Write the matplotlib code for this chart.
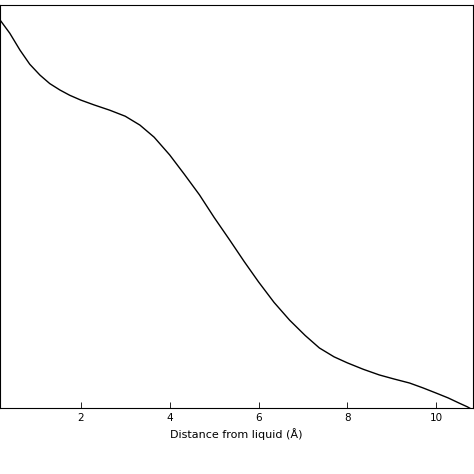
import matplotlib
matplotlib.use("Agg")
import matplotlib.pyplot as plt

x = [0.18, 0.4, 0.63, 0.85, 1.08, 1.3, 1.53, 1.75, 2.0, 2.3, 2.65, 3.0, 3.33, 3.65, 4.0, 4.33, 4.67, 5.0, 5.35, 5.68, 6.0, 6.35, 6.7, 7.05, 7.37, 7.7, 8.0, 8.36, 8.72, 9.05, 9.4, 9.7, 10.0, 10.27, 10.52, 10.7, 10.83]
y = [0.963, 0.93, 0.888, 0.853, 0.826, 0.805, 0.789, 0.776, 0.764, 0.752, 0.739, 0.724, 0.702, 0.672, 0.628, 0.58, 0.529, 0.473, 0.417, 0.363, 0.313, 0.262, 0.218, 0.18, 0.149, 0.127, 0.112, 0.096, 0.082, 0.072, 0.062, 0.05, 0.037, 0.025, 0.012, 0.003, -0.005]
xticks = [2, 4, 6, 8, 10]

fig = plt.figure(figsize=(4.74, 4.74), dpi=100)
ax = fig.add_axes([0.0, 66/474, 0.998, 403/474])
ax.plot(x, y, color="black", lw=1.0, solid_joinstyle="round")
ax.set_xlim(0.18, 10.83)
ax.set_ylim(0, 1)
ax.set_xticks(xticks)
ax.set_xticklabels([str(t) for t in xticks], fontsize=7.5)
ax.set_yticks([])
ax.tick_params(direction="in", length=4, width=0.6)
for s in ax.spines.values():
    s.set_linewidth(0.8)
ax.set_xlabel("Distance from liquid (Å)", fontsize=8, labelpad=4)
fig.savefig("out.png", dpi=100)
